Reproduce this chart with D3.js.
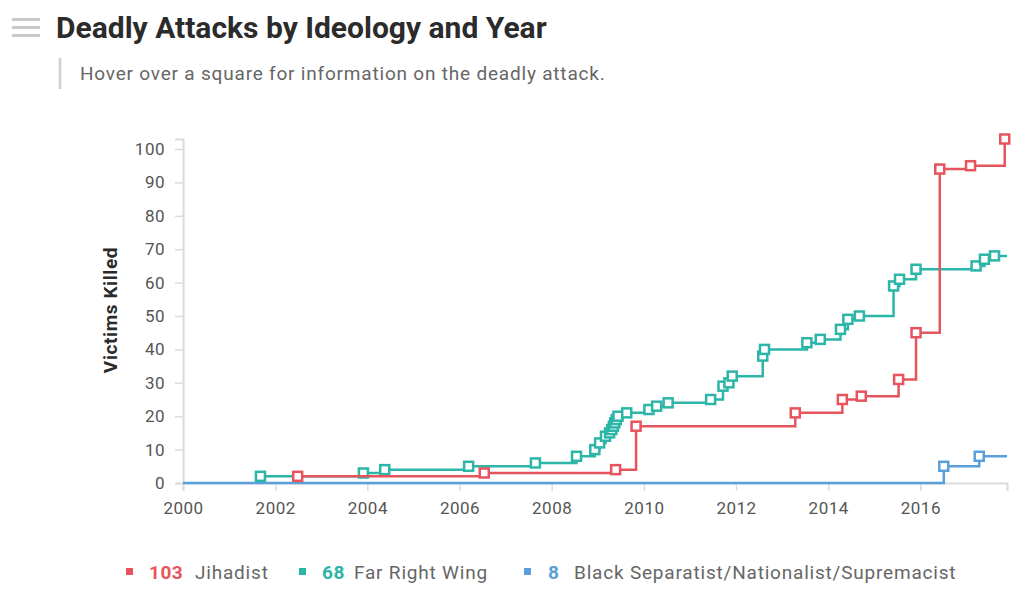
<!DOCTYPE html>
<html>
<head>
<meta charset="utf-8">
<script src="https://cdnjs.cloudflare.com/ajax/libs/d3/7.8.5/d3.min.js"></script>
<style>
  body { margin: 0; background: #fff; }
  text { font-family: Roboto, "Noto Sans", sans-serif; }
  .axis path, .axis line { stroke: #dcdcdc; }
  .axis path { stroke-width: 2; }
  .axis line { stroke-width: 1.5; }
  .axis text { fill: #555; font-size: 17px; letter-spacing: 0.5px; }
</style>
</head>
<body>
<div id="chart"></div>
<script>

// ---- data (cumulative victims killed) ----
var seriesNames = ["Jihadist", "Far Right Wing", "Black Separatist/Nationalist/Supremacist"];
var seriesColors = ["#e6545d", "#2bb6a7", "#5a9fd8"];

var jihadistDates = ["2002-06-28", "2006-07-16", "2009-05-22", "2009-10-31", "2013-04-15", "2014-04-23",
  "2014-09-20", "2015-07-13", "2015-11-28", "2016-06-03", "2017-02-02", "2017-10-31"];
var jihadistKilled = [2, 3, 4, 17, 21, 25, 26, 31, 45, 94, 95, 103];

var farRightDates = ["2001-09-06", "2003-12-01", "2004-05-18", "2006-03-14", "2007-08-25", "2008-07-16",
  "2008-12-08", "2009-01-15", "2009-03-03", "2009-04-04", "2009-04-22", "2009-05-04", "2009-05-15",
  "2009-05-27", "2009-06-10", "2009-08-18", "2010-02-10", "2010-04-12", "2010-07-12", "2011-06-14",
  "2011-09-20", "2011-11-06", "2011-12-02", "2012-07-31", "2012-08-14", "2013-07-16", "2013-10-30",
  "2014-04-08", "2014-06-06", "2014-09-05", "2015-06-03", "2015-07-20", "2015-11-28", "2017-03-18",
  "2017-05-23", "2017-08-11"];
var farRightKilled = [2, 3, 4, 5, 6, 8, 10, 12, 14, 15, 16, 17, 18, 19, 20, 21, 22, 23, 24, 25,
  29, 30, 32, 38, 40, 42, 43, 46, 49, 50, 59, 61, 64, 65, 67, 68];

// first entry is the zero baseline from the start of the period (no marker)
var blackSepDates = ["2000-01-01", "2016-07-05", "2017-04-12"];
var blackSepKilled = [0, 5, 8];

var startDate = "2000-01-01";
var endDate = "2017-11-18";
var yTicks = [0, 10, 20, 30, 40, 50, 60, 70, 80, 90, 100];
var yMax = 103;
var xTickYears = [2000, 2002, 2004, 2006, 2008, 2010, 2012, 2014, 2016];

// ---- layout ----
var svgWidth = 1024;
var svgHeight = 593;

var margin = {
  top: 139,
  right: 17,
  bottom: 110,
  left: 183
};

var width = svgWidth - margin.left - margin.right;
var height = svgHeight - margin.top - margin.bottom;

var parseDate = d3.timeParse("%Y-%m-%d");

function buildSeries(dates, killed) {
  return dates.map(function(d, i) {
    return {date: parseDate(d), value: killed[i]};
  });
}

var allSeries = [
  buildSeries(jihadistDates, jihadistKilled),
  buildSeries(farRightDates, farRightKilled),
  buildSeries(blackSepDates, blackSepKilled)
];

var svg = d3.select("#chart")
  .append("svg")
  .attr("width", svgWidth)
  .attr("height", svgHeight);

// ---- header ----
var menu = svg.append("g").attr("fill", "#c9c9c9");
[18, 26, 34].forEach(function(y) {
  menu.append("rect")
    .attr("x", 12)
    .attr("y", y)
    .attr("width", 28)
    .attr("height", 3);
});

svg.append("text")
  .attr("x", 56)
  .attr("y", 38)
  .attr("font-size", "30px")
  .attr("font-weight", "bold")
  .attr("fill", "#2b2b2b")
  .text("Deadly Attacks by Ideology and Year");

svg.append("line")
  .attr("x1", 60).attr("x2", 60)
  .attr("y1", 58).attr("y2", 89)
  .attr("stroke", "#cfcfcf")
  .attr("stroke-width", 2.5);

svg.append("text")
  .attr("x", 80)
  .attr("y", 80)
  .attr("font-size", "19px")
  .attr("letter-spacing", "0.8px")
  .attr("fill", "#666")
  .text("Hover over a square for information on the deadly attack.");

// ---- chart ----
var chartGroup = svg.append("g")
  .attr("transform", `translate(${margin.left}, ${margin.top})`);

var xTimeScale = d3.scaleTime()
  .domain([parseDate(startDate), parseDate(endDate)])
  .range([0, width]);

var yLinearScale = d3.scaleLinear()
  .domain([0, yMax])
  .range([height, 0]);

var bottomAxis = d3.axisBottom(xTimeScale)
  .tickValues(xTickYears.map(function(y) { return new Date(y, 0, 1); }))
  .tickFormat(d3.timeFormat("%Y"))
  .tickSize(8)
  .tickSizeOuter(8)
  .tickPadding(11);

var leftAxis = d3.axisLeft(yLinearScale)
  .tickValues(yTicks)
  .tickSize(8)
  .tickSizeOuter(8)
  .tickPadding(10);

chartGroup.append("g")
  .attr("class", "axis x-axis")
  .attr("transform", `translate(0, ${height})`)
  .call(bottomAxis);

chartGroup.append("g")
  .attr("class", "axis y-axis")
  .call(leftAxis);

chartGroup.append("text")
  .attr("transform", "rotate(-90)")
  .attr("x", 0 - (310 - margin.top))
  .attr("y", 110 - margin.left)
  .attr("dy", "0.35em")
  .attr("text-anchor", "middle")
  .attr("font-size", "19px")
  .attr("letter-spacing", "0.6px")
  .attr("font-weight", "bold")
  .attr("fill", "#2b2b2b")
  .text("Victims Killed");

var stepLine = d3.line()
  .curve(d3.curveStepAfter)
  .x(d => xTimeScale(d.date))
  .y(d => yLinearScale(d.value));

// draw the bottom series first so the jihadist line sits on top
[2, 1, 0].forEach(function(i) {
  var pts = allSeries[i];
  var last = pts[pts.length - 1];
  var linePts = pts.concat([{date: parseDate(endDate), value: last.value}]);

  chartGroup.append("path")
    .datum(linePts)
    .attr("fill", "none")
    .attr("stroke", seriesColors[i])
    .attr("stroke-width", 2.5)
    .attr("d", stepLine);

  chartGroup.selectAll(".sq" + i)
    .data(pts.filter(d => d.value > 0))
    .enter()
    .append("rect")
    .attr("class", "sq" + i)
    .attr("x", d => xTimeScale(d.date) - 4.5)
    .attr("y", d => yLinearScale(d.value) - 4.5)
    .attr("width", 9)
    .attr("height", 9)
    .attr("fill", "#fff")
    .attr("stroke", seriesColors[i])
    .attr("stroke-width", 2.5);
});

// ---- legend ----
var legendSquareX = [126, 299, 524];
var legendTotalX = [149, 322, 548];
var legendLabelX = [195, 354, 574];

var legendGroup = svg.append("g")
  .attr("transform", "translate(0, 579)");

allSeries.forEach(function(pts, i) {
  legendGroup.append("rect")
    .attr("x", legendSquareX[i])
    .attr("y", -11)
    .attr("width", 7)
    .attr("height", 7)
    .attr("fill", seriesColors[i]);

  legendGroup.append("text")
    .attr("x", legendTotalX[i])
    .attr("font-size", "19px")
    .attr("letter-spacing", "0.5px")
    .attr("font-weight", "bold")
    .attr("fill", seriesColors[i])
    .text(pts[pts.length - 1].value);

  legendGroup.append("text")
    .attr("x", legendLabelX[i])
    .attr("font-size", "19px")
    .attr("letter-spacing", "0.8px")
    .attr("fill", "#666")
    .text(seriesNames[i]);
});

</script>
</body>
</html>
